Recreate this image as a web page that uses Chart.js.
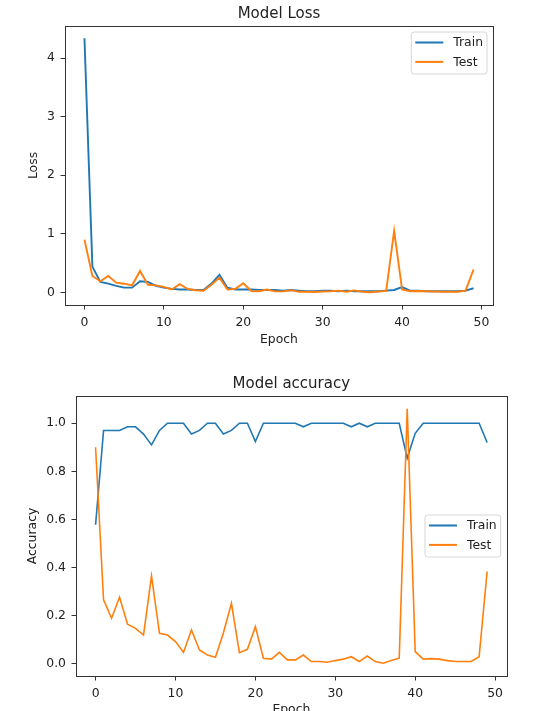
<!DOCTYPE html>
<html>
<head>
<meta charset="utf-8">
<script src="https://cdn.jsdelivr.net/npm/chart.js@4.4.1/dist/chart.umd.min.js"></script>
<style>
  html, body { margin: 0; padding: 0; background: #fff; overflow: hidden; width: 539px; height: 711px; }
  canvas { position: absolute; left: 0; }
  #c1 { top: 0; }
  #c2 { top: 355px; }
</style>
</head>
<body>
<canvas id="c1" width="539" height="355"></canvas>
<canvas id="c2" width="539" height="370"></canvas>
<script>
// ---- data ----
const epochs = [0,1,2,3,4,5,6,7,8,9,10,11,12,13,14,15,16,17,18,19,20,21,22,23,24,25,26,27,28,29,30,31,32,33,34,35,36,37,38,39,40,41,42,43,44,45,46,47,48,49];

const trainLoss = [4.34,0.44,0.18,0.15,0.11,0.08,0.08,0.19,0.18,0.11,0.08,0.06,0.05,0.05,0.04,0.04,0.15,0.30,0.08,0.05,0.05,0.05,0.04,0.04,0.04,0.03,0.04,0.03,0.02,0.02,0.03,0.03,0.02,0.03,0.02,0.02,0.02,0.02,0.03,0.04,0.09,0.03,0.03,0.02,0.02,0.02,0.02,0.02,0.03,0.07];

const testLoss = [0.90,0.28,0.19,0.28,0.165,0.148,0.12,0.366,0.13,0.12,0.093,0.05,0.141,0.058,0.037,0.028,0.13,0.252,0.047,0.061,0.155,0.024,0.02,0.048,0.017,0.017,0.037,0.01,0.01,0.007,0.014,0.02,0.03,0.01,0.033,0.01,0.003,0.014,0.024,1.05,0.051,0.02,0.022,0.02,0.014,0.01,0.01,0.01,0.03,0.39];

const trainAcc = [0.578,0.97,0.97,0.97,0.985,0.985,0.955,0.91,0.97,1.0,1.0,1.0,0.955,0.97,1.0,1.0,0.955,0.97,1.0,1.0,0.924,1.0,1.0,1.0,1.0,1.0,0.985,1.0,1.0,1.0,1.0,1.0,0.985,1.0,0.985,1.0,1.0,1.0,1.0,0.855,0.958,1.0,1.0,1.0,1.0,1.0,1.0,1.0,1.0,0.92];

const testAcc = [0.90,0.266,0.19,0.277,0.165,0.148,0.12,0.366,0.127,0.12,0.093,0.048,0.141,0.058,0.037,0.028,0.13,0.252,0.047,0.061,0.155,0.024,0.02,0.048,0.017,0.017,0.037,0.01,0.01,0.007,0.014,0.02,0.03,0.01,0.033,0.01,0.003,0.014,0.024,1.06,0.051,0.02,0.022,0.02,0.014,0.01,0.01,0.01,0.03,0.384];

const seriesLabels = ['Train', 'Test'];
const xTicks = [0,10,20,30,40,50];
const lossTicks = [0,1,2,3,4];
const accTicks = [0.0,0.2,0.4,0.6,0.8,1.0];

// ---- style ----
const BLUE = '#1f77b4', ORANGE = '#ff7f0e';
const TXT = '#222';
const FONT = '"DejaVu Sans", sans-serif';
Chart.defaults.font.family = FONT;
Chart.defaults.font.size = 12.4;
Chart.defaults.color = TXT;

const framePlugin = {
  id: 'frame',
  afterDatasetsDraw(chart) {
    const a = chart.chartArea, ctx = chart.ctx;
    ctx.save();
    ctx.strokeStyle = '#333';
    ctx.lineWidth = 1;
    ctx.strokeRect(Math.round(a.left) + 0.5, Math.round(a.top) + 0.5,
                   Math.round(a.right - a.left), Math.round(a.bottom - a.top));
    ctx.restore();
  }
};

const mplLegend = {
  id: 'mplLegend',
  afterDraw(chart, args, opts) {
    const ctx = chart.ctx, a = chart.chartArea;
    const ds = chart.data.datasets;
    ctx.save();
    ctx.font = '12.4px ' + FONT;
    const tw = Math.max(...ds.map(d => ctx.measureText(d.label).width));
    const w = 4 + 28 + 10 + tw + 4;
    const h = 42;
    const x = a.right - 6 - w;
    const y = opts.loc === 'center right' ? (a.top + a.bottom) / 2 - h / 2 : a.top + 6;
    const r = 3;
    ctx.beginPath();
    ctx.moveTo(x + r, y);
    ctx.lineTo(x + w - r, y); ctx.quadraticCurveTo(x + w, y, x + w, y + r);
    ctx.lineTo(x + w, y + h - r); ctx.quadraticCurveTo(x + w, y + h, x + w - r, y + h);
    ctx.lineTo(x + r, y + h); ctx.quadraticCurveTo(x, y + h, x, y + h - r);
    ctx.lineTo(x, y + r); ctx.quadraticCurveTo(x, y, x + r, y);
    ctx.closePath();
    ctx.fillStyle = 'rgba(255,255,255,0.85)';
    ctx.fill();
    ctx.strokeStyle = '#d6d6d6';
    ctx.lineWidth = 1;
    ctx.stroke();
    ds.forEach((d, i) => {
      const cy = y + 10.5 + i * 19.4;
      ctx.beginPath();
      ctx.moveTo(x + 4, cy); ctx.lineTo(x + 32, cy);
      ctx.strokeStyle = d.borderColor; ctx.lineWidth = 2;
      ctx.stroke();
      ctx.fillStyle = TXT;
      ctx.textBaseline = 'middle';
      ctx.textAlign = 'left';
      ctx.fillText(d.label, x + 42, cy + 0.5);
    });
    ctx.restore();
  }
};

function pts(arr) { return arr.map((v, i) => ({ x: epochs[i], y: v })); }

function makeChart(id, cfg) {
  return new Chart(document.getElementById(id), {
    type: 'line',
    data: {
      datasets: [
        { label: seriesLabels[0], data: pts(cfg.train), borderColor: BLUE, backgroundColor: BLUE,
          borderWidth: cfg.lw, pointRadius: 0, tension: 0, order: 1 },
        { label: seriesLabels[1], data: pts(cfg.test), borderColor: ORANGE, backgroundColor: ORANGE,
          borderWidth: cfg.lw, pointRadius: 0, tension: 0, order: 0 }
      ]
    },
    options: {
      responsive: false,
      animation: false,
      devicePixelRatio: 1,
      layout: { padding: { left: 0, top: 0, right: cfg.padRight, bottom: 0 } },
      plugins: {
        legend: { display: false },
        tooltip: { enabled: false },
        title: {
          display: true, text: cfg.title, fullSize: false,
          font: { size: 15, weight: 'normal', lineHeight: 1.2 },
          color: TXT,
          padding: { top: cfg.titleTop, bottom: cfg.titleBottom }
        },
        mplLegend: { loc: cfg.legendLoc }
      },
      scales: {
        x: {
          type: 'linear', min: -2.45, max: 51.45,
          afterBuildTicks: s => { s.ticks = xTicks.map(v => ({ value: v })); },
          afterFit: s => { s.height = cfg.xHeight; },
          grid: { drawOnChartArea: false, drawTicks: true, tickLength: 4.5, color: '#333', lineWidth: 1 },
          border: { display: false },
          ticks: { padding: 5.5, color: TXT, maxRotation: 0, autoSkip: false, callback: v => String(v) },
          title: { display: true, text: 'Epoch', color: TXT, font: { size: 12.4 }, padding: { top: 0, bottom: cfg.xTitlePad } }
        },
        y: {
          type: 'linear', min: cfg.yMin, max: cfg.yMax,
          afterBuildTicks: s => { s.ticks = cfg.yTicks.map(v => ({ value: v })); },
          afterFit: s => { s.width = cfg.yWidth; },
          grid: { drawOnChartArea: false, drawTicks: true, tickLength: 4.5, color: '#333', lineWidth: 1 },
          border: { display: false },
          ticks: { padding: 5.5, color: TXT, autoSkip: false, callback: cfg.yFmt },
          title: { display: true, text: cfg.yTitle, color: TXT, font: { size: 12.4 }, padding: { top: cfg.yTitlePad, bottom: 0 } }
        }
      }
    },
    plugins: [framePlugin, mplLegend]
  });
}

makeChart('c1', {
  train: trainLoss, test: testLoss, lw: 1.9,
  title: 'Model Loss', titleTop: 5.5, titleBottom: 2.5,
  padRight: 46, xHeight: 50, xTitlePad: 7.8, yWidth: 65, yTitlePad: 26,
  yMin: -0.216, yMax: 4.55, yTicks: lossTicks, yFmt: v => String(v),
  yTitle: 'Loss', legendLoc: 'upper right'
});

makeChart('c2', {
  train: trainAcc, test: testAcc, lw: 1.6,
  title: 'Model accuracy', titleTop: 19.8, titleBottom: 3.2,
  padRight: 32.3, xHeight: 49, xTitlePad: 8.2, yWidth: 76, yTitlePad: 25.6,
  yMin: -0.05, yMax: 1.113, yTicks: accTicks, yFmt: v => Number(v).toFixed(1),
  yTitle: 'Accuracy', legendLoc: 'center right'
});
</script>
</body>
</html>
